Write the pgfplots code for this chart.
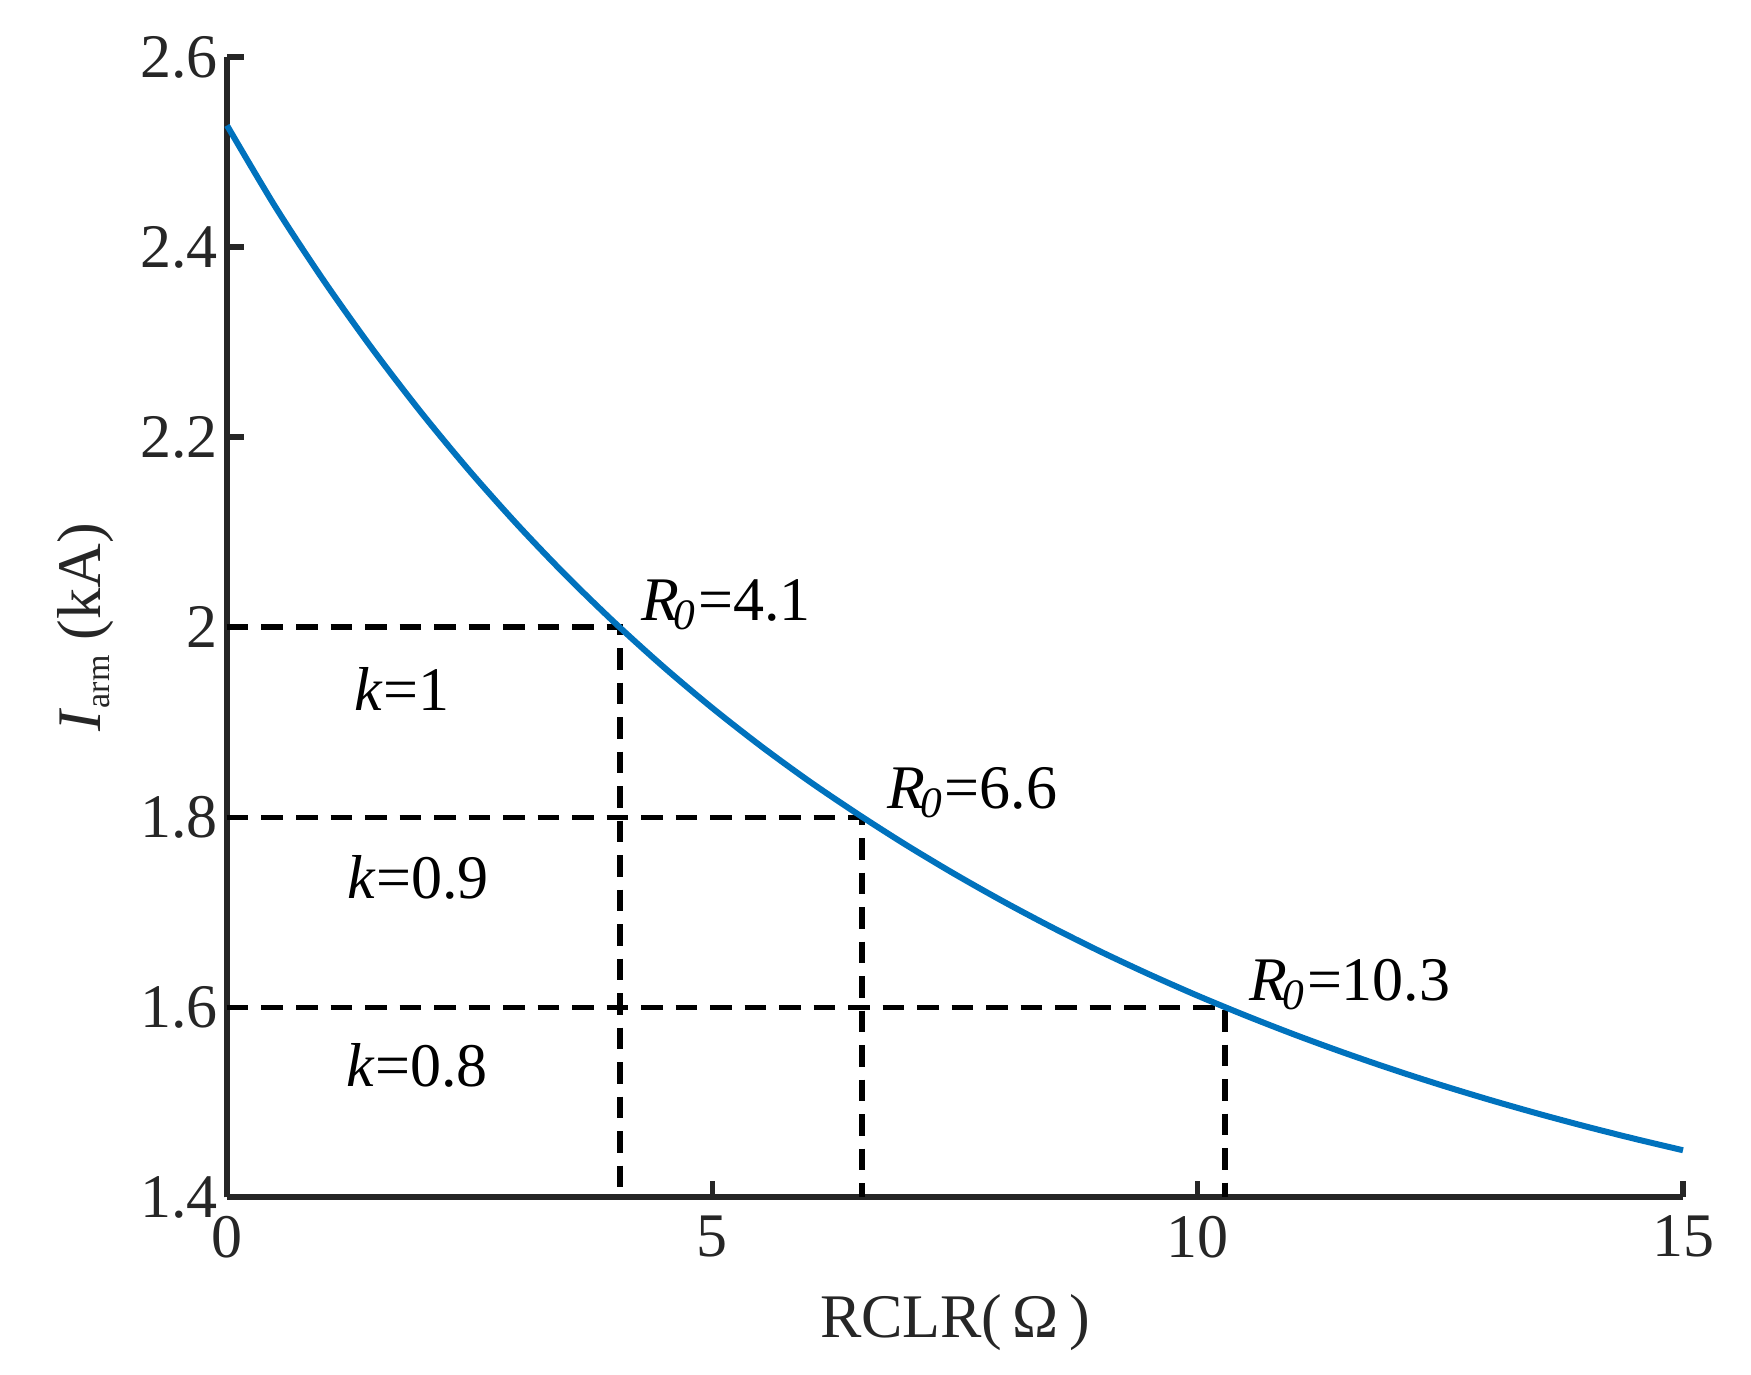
\documentclass[border=0pt]{standalone}
\usepackage{fontspec}
\setmainfont{Liberation Serif}
\usepackage{pgfplots}
\pgfplotsset{compat=1.18}
\definecolor{axgray}{HTML}{262626}
\definecolor{mblue}{HTML}{0072BD}
\pgfplotstableread{
R I
0 2.528
0.5 2.442
1.0 2.3642
1.5 2.2925
2.0 2.2260
2.5 2.1643
3.0 2.1070
3.5 2.0537
4.0 2.0042
4.5 1.9580
5.0 1.9150
5.5 1.8750
6.0 1.8378
6.5 1.8033
7.0 1.7707
7.5 1.7401
8.0 1.7113
8.5 1.6842
9.0 1.6587
9.5 1.6348
10.0 1.6123
10.5 1.5912
11.0 1.5713
11.5 1.5526
12.0 1.5350
12.5 1.5185
13.0 1.5030
13.5 1.4884
14.0 1.4747
14.5 1.4618
15.0 1.4497
}\curvedata
\newcommand{\Rsub}{\textit{R}\kern-1pt\textsubscript{\textit{0}}}
\begin{document}
\fontsize{12.4pt}{15pt}\selectfont
\begin{tikzpicture}
\begin{axis}[
  scale only axis, width=291.2pt, height=228.1pt,
  xmin=0, xmax=15, ymin=1.4, ymax=2.6,
  axis x line=bottom, axis y line=left,
  axis line style={-, line width=1.2pt, draw=axgray},
  xtick={0,5,10,15}, ytick={1.4,1.6,1.8,2,2.2,2.4,2.6},
  tick align=inside, major tick length=3.3pt,
  tick style={line width=1.1pt, draw=axgray},
  /pgf/number format/assume math mode=true,
  xticklabel style={inner sep=0pt, anchor=north, yshift=-3.5pt, text=axgray},
  yticklabel style={inner sep=0pt, anchor=east, xshift=-1.6pt, text=axgray},
  xlabel={RCLR(\,Ω\,)},
  xlabel style={at={(axis description cs:0.5,0)}, anchor=base, yshift=-28.1pt, inner sep=0pt, text=axgray},
  ylabel={\textit{I}\textsubscript{\fontsize{6.8pt}{7pt}\selectfont arm}\hspace{2.5pt}(kA)},
  ylabel style={at={(axis description cs:-0.0872,0.5)}, anchor=base, inner sep=0pt, text=axgray},
  clip=false,
]
\coordinate (sw) at (rel axis cs:0,0);
\coordinate (ne) at (rel axis cs:1,1);
\addplot[black, line width=1.1pt, dash pattern=on 4.3pt off 2.6pt] coordinates {(0,2) (4.05,2) (4.05,1.4)};
\addplot[black, line width=1.1pt, dash pattern=on 4.3pt off 2.6pt] coordinates {(0,1.8) (6.54,1.8) (6.54,1.4)};
\addplot[black, line width=1.1pt, dash pattern=on 4.3pt off 2.6pt] coordinates {(0,1.6) (10.28,1.6) (10.28,1.4)};
\addplot[mblue, line width=1.2pt, smooth, no markers] table[x=R, y=I] {\curvedata};
\node[anchor=base west, inner sep=0pt] at (axis cs:4.255,2.0074) {\Rsub=4.1};
\node[anchor=base west, inner sep=0pt] at (axis cs:6.796,1.8097) {\Rsub=6.6};
\node[anchor=base west, inner sep=0pt] at (axis cs:10.528,1.6077) {\Rsub=10.3};
\node[anchor=base west, inner sep=0pt] at (axis cs:1.308,1.9127) {\textit{k}=1};
\node[anchor=base west, inner sep=0pt] at (axis cs:1.236,1.715) {\textit{k}=0.9};
\node[anchor=base west, inner sep=0pt] at (axis cs:1.223,1.5167) {\textit{k}=0.8};
\end{axis}
\path ([xshift=-45.4pt,yshift=-35.5pt]sw) rectangle ([xshift=13.6pt,yshift=11.4pt]ne);
\end{tikzpicture}
\end{document}
